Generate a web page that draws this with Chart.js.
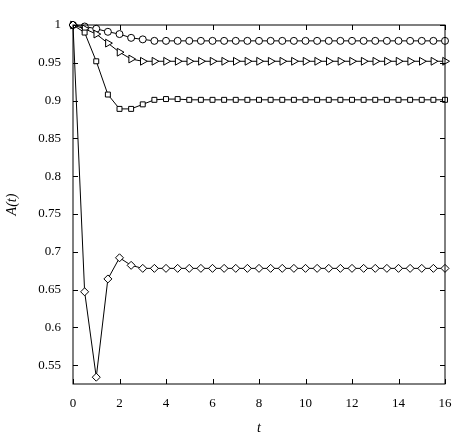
<!DOCTYPE html><html><head><script src="https://cdn.jsdelivr.net/npm/chart.js"></script>
<style>body{margin:0;background:#fff}#w{width:474px;height:441px}</style></head><body><div id="w"><canvas id="c"></canvas></div>
<script>
const tValues=[0,0.5,1,1.5,2,2.5,3,3.5,4,4.5,5,5.5,6,6.5,7,7.5,8,8.5,9,9.5,10,10.5,11,11.5,12,12.5,13,13.5,14,14.5,15,15.5,16];
const circles=[1,0.998,0.995,0.991,0.988,0.983,0.981,0.979,0.979,0.979,0.979,0.979,0.979,0.979,0.979,0.979,0.979,0.979,0.979,0.979,0.979,0.979,0.979,0.979,0.979,0.979,0.979,0.979,0.979,0.979,0.979,0.979,0.979];
const triangles=[1,0.995,0.988,0.976,0.964,0.955,0.952,0.952,0.952,0.952,0.952,0.952,0.952,0.952,0.952,0.952,0.952,0.952,0.952,0.952,0.952,0.952,0.952,0.952,0.952,0.952,0.952,0.952,0.952,0.952,0.952,0.952,0.952];
const squares=[1,0.99,0.952,0.908,0.889,0.889,0.895,0.901,0.902,0.902,0.901,0.901,0.901,0.901,0.901,0.901,0.901,0.901,0.901,0.901,0.901,0.901,0.901,0.901,0.901,0.901,0.901,0.901,0.901,0.901,0.901,0.901,0.901];
const diamonds=[1,0.647,0.534,0.664,0.692,0.682,0.678,0.678,0.678,0.678,0.678,0.678,0.678,0.678,0.678,0.678,0.678,0.678,0.678,0.678,0.678,0.678,0.678,0.678,0.678,0.678,0.678,0.678,0.678,0.678,0.678,0.678,0.678];
const xTicks=[0,2,4,6,8,10,12,14,16];
const yTicks=[0.55,0.6,0.65,0.7,0.75,0.8,0.85,0.9,0.95,1];
const F='"Liberation Serif", serif';
function ds(d,style,rot,r){return{data:d.map((v,i)=>({x:tValues[i],y:v})),borderColor:'#000',borderWidth:1,backgroundColor:'#fff',pointStyle:style,pointRotation:rot,pointRadius:r,pointBorderWidth:1,pointBorderColor:'#000',pointBackgroundColor:'#fff',tension:0,clip:false};}
const frame={id:'frame',afterDraw(c){const a=c.chartArea,x=c.ctx,sx=c.scales.x,sy=c.scales.y;x.save();x.strokeStyle='#000';x.lineWidth=1;x.strokeRect(a.left,a.top,a.right-a.left,a.bottom-a.top);x.beginPath();xTicks.forEach(t=>{const p=Math.round(sx.getPixelForValue(t))+0.5;x.moveTo(p,a.bottom);x.lineTo(p,a.bottom-5);x.moveTo(p,a.top);x.lineTo(p,a.top+5);});yTicks.forEach(t=>{const p=Math.round(sy.getPixelForValue(t))+0.5;x.moveTo(a.left,p);x.lineTo(a.left+5,p);x.moveTo(a.right,p);x.lineTo(a.right-5,p);});x.stroke();x.restore();}};
new Chart(document.getElementById('c'),{type:'line',data:{datasets:[ds(diamonds,'rectRot',0,4),ds(squares,'rect',0,3.5),ds(triangles,'triangle',90,4.5),ds(circles,'circle',0,3.5)]},
options:{responsive:true,maintainAspectRatio:false,animation:false,layout:{padding:{top:25,right:29,bottom:0,left:0}},plugins:{legend:{display:false},tooltip:{enabled:false}},
scales:{x:{type:'linear',min:0,max:16,afterBuildTicks(s){s.ticks=xTicks.map(v=>({value:v}));},afterFit(s){s.height=57;},grid:{display:false},border:{display:false},ticks:{color:'#000',font:{family:F,size:13},padding:4,maxRotation:0,callback:v=>String(v)},title:{display:true,text:'t',color:'#000',font:{family:F,size:14,style:'italic'},padding:{top:4}}},
y:{min:0.525,max:1,afterBuildTicks(s){s.ticks=yTicks.map(v=>({value:v}));},afterFit(s){s.width=73;},grid:{display:false},border:{display:false},ticks:{color:'#000',font:{family:F,size:13},padding:4,callback:v=>String(+v.toFixed(2))},title:{display:true,text:'A(t)',color:'#000',font:{family:F,size:14,style:'italic'},padding:{bottom:4}}}}},plugins:[frame]});
</script></body></html>
